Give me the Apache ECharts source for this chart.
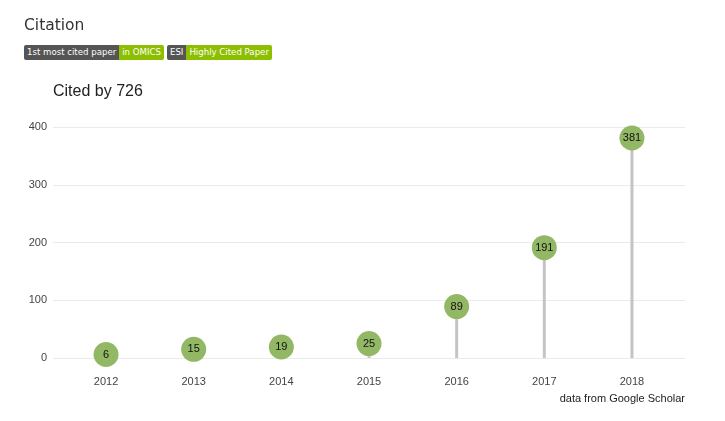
<!DOCTYPE html>
<html>
<head>
<meta charset="utf-8">
<script src="https://cdn.jsdelivr.net/npm/echarts@6/dist/echarts.min.js"></script>
<style>
html,body{margin:0;padding:0;background:#fff;}
#chart{position:absolute;left:0;top:0;width:725px;height:421px;}
.hdr{position:absolute;left:24px;top:16px;font-family:"DejaVu Sans",sans-serif;font-size:15.5px;color:#333;}
.badges{position:absolute;left:24px;top:45px;height:15px;font-family:"DejaVu Sans",sans-serif;font-size:8.6px;color:#fff;white-space:nowrap;}
.badge{display:inline-block;height:15px;line-height:15px;border-radius:2px;overflow:hidden;margin-right:3px;vertical-align:top;}
.badge span{display:inline-block;height:15px;padding:0 3px 0 3px;}
.l{background:#555;}
.r{background:#8cbf00;}
</style>
</head>
<body>
<div id="chart"></div>
<div class="hdr">Citation</div>
<div class="badges">
  <div class="badge"><span class="l">1st most cited paper</span><span class="r">in OMICS</span></div><div class="badge"><span class="l">ESI</span><span class="r">Highly Cited Paper</span></div>
</div>
<script>
const years = [2012, 2013, 2014, 2015, 2016, 2017, 2018];
const citations = [6, 15, 19, 25, 89, 191, 381];
const yTicks = [0, 100, 200, 300, 400];
const totalCited = 726;

const pts = years.map((y, i) => [y, citations[i]]);
const chart = echarts.init(document.getElementById('chart'));
chart.setOption({
  animation: false,
  title: {
    text: 'Cited by ' + totalCited,
    left: 48, top: 79,
    textStyle: {fontFamily: 'Liberation Sans, Arial, sans-serif', fontSize: 16, fontWeight: 'normal', color: '#222'}
  },
  graphic: [{
    type: 'text', right: 40, top: 393,
    style: {text: 'data from Google Scholar', font: '11px "Liberation Sans", Arial, sans-serif', fill: '#222'}
  }],
  grid: {left: 53, right: 40, top: 127, bottom: 63},
  xAxis: {
    type: 'value', min: 2011.395, max: 2018.605,
    axisLine: {show: false}, axisTick: {show: false}, splitLine: {show: false},
    axisLabel: {customValues: years, formatter: v => String(Math.round(v)), color: '#444', fontSize: 11, margin: 18, fontFamily: 'Liberation Sans, Arial, sans-serif'}
  },
  yAxis: {
    type: 'value', min: 0, max: 400, interval: 100,
    axisLine: {show: false}, axisTick: {show: false},
    splitLine: {lineStyle: {color: '#ebebeb', width: 1}},
    axisLabel: {color: '#444', fontSize: 11, margin: 6, fontFamily: 'Liberation Sans, Arial, sans-serif', customValues: yTicks}
  },
  series: [{
    type: 'bar', data: pts, barWidth: 3,
    itemStyle: {color: '#c4c4c4'}, z: 1
  }, {
    type: 'scatter', data: pts, symbolSize: 25, z: 3,
    itemStyle: {color: '#93b865', opacity: 1},
    label: {show: true, position: 'inside', formatter: p => p.value[1], color: '#111', fontSize: 11, fontFamily: 'Liberation Sans, Arial, sans-serif'}
  }]
});
</script>
</body>
</html>
